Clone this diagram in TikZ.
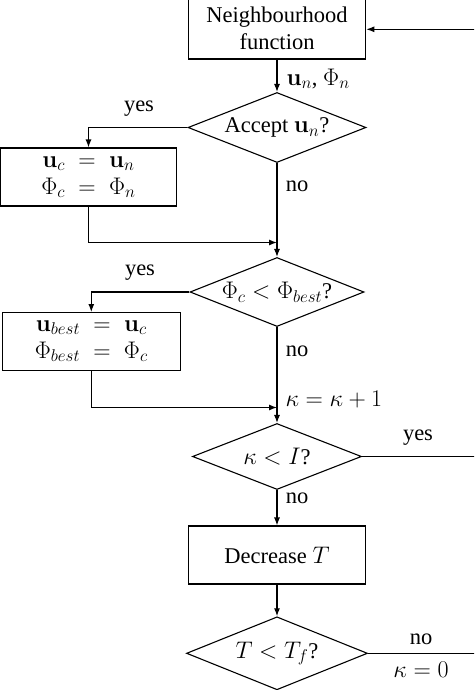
\documentclass[tikz,border=0pt]{standalone}
\usepackage{fix-cm}
\usepackage[no-math]{fontspec}
\setmainfont{Liberation Serif}
\DeclareMathSizes{22.5}{24}{17}{12}
\usetikzlibrary{shapes.geometric,arrows.meta}
\tikzset{
  procbox/.style={draw, rectangle, inner sep=0pt, align=center},
  decision/.style={draw, diamond, inner sep=0pt},
  flow/.style={-{Latex[length=8pt,width=6pt]}},
  lbl/.style={inner sep=0pt}
}
\begin{document}
\begin{tikzpicture}[x=1pt,y=-1pt,line width=1.1pt,font=\fontsize{22.5}{27}\selectfont]
\useasboundingbox (0,0) rectangle (474,690);
\clip (0,0) rectangle (474,690);
% nodes
\node[procbox, minimum width=177.5pt, minimum height=61pt] (nb) at (277,28.5) {Neighbourhood\\function};
\node[decision, minimum width=178pt, minimum height=70pt, label={center:Accept $\mathbf{u}_n$?}] (d1) at (277,127.5) {};
\node[procbox, minimum width=176pt, minimum height=58pt] (b2) at (88.5,177) {$\mathbf{u}_c \;=\; \mathbf{u}_n$\\$\Phi_c \;=\; \Phi_n$};
\node[decision, minimum width=174pt, minimum height=69pt, label={center:$\Phi_c < \Phi_{best}$?}] (d2) at (277,292) {};
\node[procbox, minimum width=177.5pt, minimum height=57.5pt] (b3) at (91.3,341.3) {$\mathbf{u}_{best} \;=\; \mathbf{u}_c$\\$\Phi_{best} \;=\; \Phi_c$};
\node[decision, minimum width=169pt, minimum height=66pt, label={center:$\kappa < I$?}] (d3) at (277,456.5) {};
\node[procbox, minimum width=177.5pt, minimum height=58pt] (dec) at (277,555) {Decrease $T$};
\node[decision, minimum width=181pt, minimum height=73pt, label={center:$T < T_f$?}] (d4) at (277,653.3) {};
% coordinates
\coordinate (j1) at (277,242.5);
\coordinate (j2) at (277,407.5);
\coordinate (rin) at (480,29.3);
\coordinate (r3) at (480,456.5);
\coordinate (r4) at (480,653.3);
% connectors
\draw[flow] (nb.south) -- (d1.north);
\draw[flow] (d1.west) -| (b2.north);
\draw[flow] (d1.south) -- (d2.north);
\draw[flow] (b2.south) |- (j1);
\draw[flow] (d2.west) -| (b3.north);
\draw[flow] (d2.south) -- (d3.north);
\draw[flow] (b3.south) |- (j2);
\draw[flow] (d3.south) -- (dec.north);
\draw[flow] (dec.south) -- (d4.north);
\draw (d3.east) -- (r3);
\draw (d4.east) -- (r4);
\draw[flow] (rin) -- (rin -| nb.east);
% labels
\node[lbl, anchor=west] (l1) at (286,79) {$\mathbf{u}_n$, $\Phi_n$};
\node[lbl] (l2) at (139,109) {yes};
\node[lbl] (l3) at (297,186) {no};
\node[lbl] (l4) at (140,273) {yes};
\node[lbl] (l5) at (297,351) {no};
\node[lbl, anchor=west] (l6) at (285,400) {$\kappa = \kappa + 1$};
\node[lbl] (l7) at (418,438) {yes};
\node[lbl] (l8) at (297,498) {no};
\node[lbl] (l9) at (421,639) {no};
\node[lbl] (l10) at (421,670) {$\kappa = 0$};
\end{tikzpicture}
\end{document}
